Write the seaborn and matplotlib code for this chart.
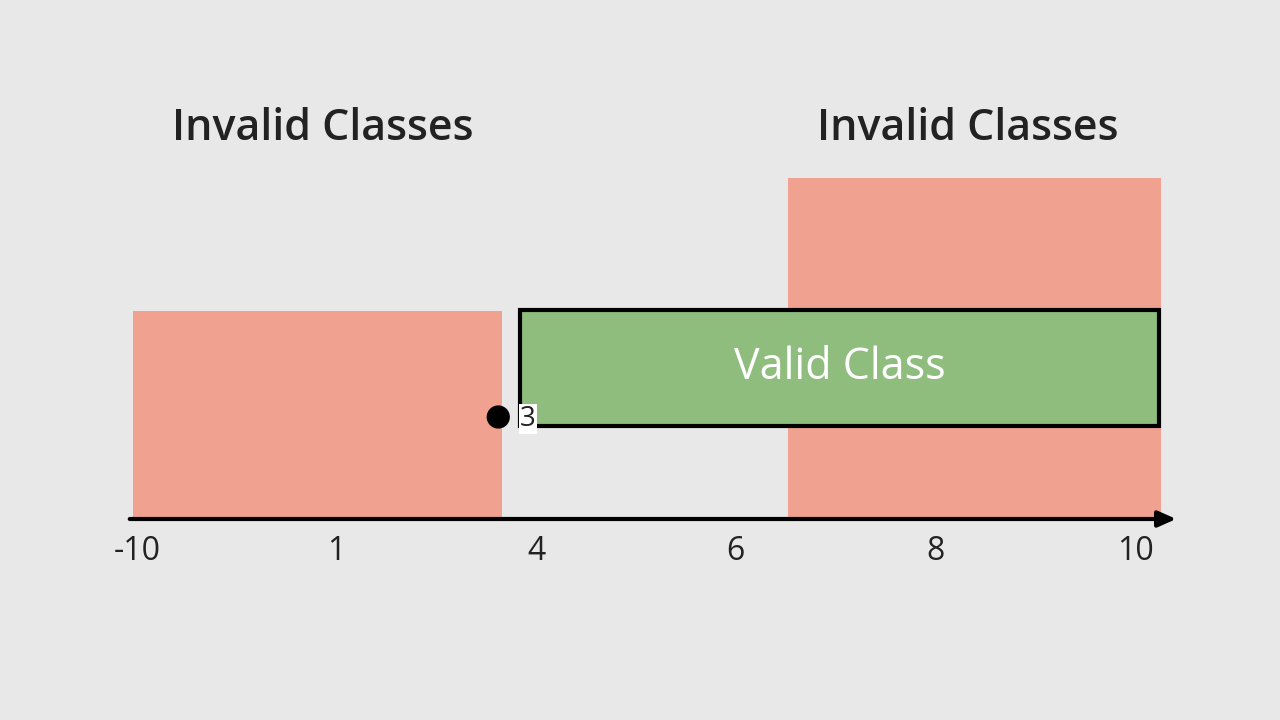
import matplotlib
matplotlib.use("Agg")
import matplotlib.pyplot as plt
import seaborn as sns
import pandas as pd

sns.set_theme(style="white")
plt.rcParams['font.family'] = ['Open Sans', 'DejaVu Sans']

tick_labels = ["-10", "1", "4", "6", "8", "10"]
tick_pos = [0, 1, 2, 3, 4, 5]
# invalid regions: (left, width, height)
invalid_left = [-0.02, 3.26]
invalid_width = [1.85, 1.87]
invalid_height = [2.08, 3.41]
valid_left, valid_width, valid_bottom, valid_height = 1.92, 3.2, 0.93, 1.16
point_x, point_y, point_label = 1.81, 1.02, "3"

bg = "#e8e8e8"
fig = plt.figure(figsize=(12.8, 7.2), dpi=100, facecolor=bg)
ax = fig.add_axes([0, 0, 1, 1], facecolor=bg)
ax.set_xlim(-0.686, 5.726)
ax.set_ylim(-2.01, 5.19)
ax.axis("off")

ax.bar(invalid_left, invalid_height, width=invalid_width, align="edge",
       color="#f0a190", edgecolor="none", zorder=1)
ax.bar([valid_left], [valid_height], width=valid_width, bottom=valid_bottom,
       align="edge", color="#8fbd7e", edgecolor="black", linewidth=3, zorder=2)
ax.text(valid_left + 1.6, valid_bottom + 0.58, "Valid Class", color="white",
        fontsize=31, ha="center", va="center", zorder=3)

ax.annotate("", xy=(5.22, 0), xytext=(-0.05, 0),
            arrowprops=dict(arrowstyle="-|>,head_length=0.9,head_width=0.4",
                            color="black", lw=3), zorder=4)
for p, l in zip(tick_pos, tick_labels):
    ax.text(p, -0.33, l, fontsize=23, ha="center", va="center", color="#222")

ax.text(0.93, 3.91, "Invalid Classes", fontsize=31, fontweight="semibold",
        ha="center", va="center", color="#222")
ax.text(4.16, 3.91, "Invalid Classes", fontsize=31, fontweight="semibold",
        ha="center", va="center", color="#222")

sns.scatterplot(data=pd.DataFrame({"x": [point_x], "y": [point_y]}), x="x", y="y",
                ax=ax, s=280, color="black", edgecolor="none", zorder=5)
ax.text(point_x + 0.11, point_y - 0.02, point_label, fontsize=20,
        ha="left", va="center", color="#222", zorder=6,
        bbox=dict(facecolor="white", edgecolor="none", pad=1))
ax.set_xlabel(""); ax.set_ylabel("")
fig.savefig("out.png", dpi=100, facecolor=bg)
